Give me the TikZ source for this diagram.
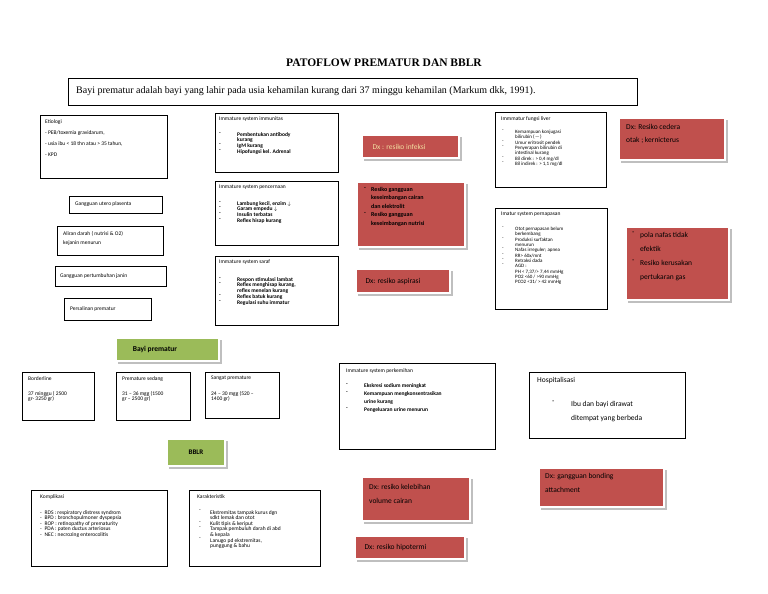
\documentclass[tikz,border=0pt]{standalone}
\usepackage{fontspec}
\setmainfont{Carlito}
\newfontfamily\serif{Liberation Serif}
\definecolor{dxred}{HTML}{C0504D}
\definecolor{dxgreen}{HTML}{9BBB59}
\definecolor{dxyel}{HTML}{F2DDA0}
\begin{document}
\begin{tikzpicture}[x=1pt,y=-1pt,
 wb/.style={draw=black,line width=0.8pt,fill=white},
 rb/.style={fill=dxred,draw=white,line width=1.5pt},
 gb/.style={fill=dxgreen,draw=white,line width=1.5pt},
 sh/.style={fill=black!25},
 tx/.style={anchor=north west,inner sep=0pt,align=left,font=\fontsize{5.5}{6}\selectfont},
 tb/.style={anchor=north west,inner sep=0pt,align=left,font=\fontsize{5.5}{5.8}\selectfont\bfseries},
 rt/.style={anchor=north west,inner sep=0pt,align=left,font=\fontsize{7.5}{12}\selectfont},
]
\useasboundingbox (0,0) rectangle (768,594);
\fill[white] (0,0) rectangle (768,594);
\node (title) at (384,63) {\serif\bfseries\fontsize{11.5}{12}\selectfont PATOFLOW PREMATUR DAN BBLR};
\draw[wb] (68,78) rectangle (637,105);
\node[anchor=west,inner sep=0pt] (intro) at (76,91) {\serif\fontsize{10}{11}\selectfont Bayi prematur adalah bayi yang lahir pada usia kehamilan kurang dari 37 minggu kehamilan (Markum dkk, 1991).};
% left column
\draw[wb] (40,115) rectangle (167,178);
\node[tx,font=\fontsize{5.5}{11}\selectfont] (etio) at (45,119) {Etiologi\\- PEB/toxemia gravidarum,\\- usia ibu < 18 thn atau > 35 tahun,\\- KPD};
\draw[wb] (69,196) rectangle (162,213);
\node[tx] (g1) at (75,201) {Gangguan utero plasenta};
\draw[wb] (57,226) rectangle (163,255);
\node[tx,font=\fontsize{5.5}{9}\selectfont] (g2) at (63,231) {Aliran darah ( nutrisi \& O2)\\kejanin menurun};
\draw[wb] (55,266) rectangle (166,286);
\node[tx] (g3) at (60,273) {Gangguan pertumbuhan janin};
\draw[wb] (64,298) rectangle (151,320);
\node[tx] (g4) at (70,306) {Persalinan prematur};
% immature systems
\draw[wb] (215,113) rectangle (338,172);
\node[tx] (im1) at (219,117) {Immature system immunitas};
\node[tb] at (219,132) {-\\\\-\\-};
\node[tb] (im1b) at (237,132) {Pembentukan antibody\\kurang\\IgM kurang\\Hipofungsi kel. Adrenal};
\draw[wb] (215,181) rectangle (338,245);
\node[tx] (im2) at (219,185) {Immature system pencernaan};
\node[tb] at (219,201) {-\\-\\-\\-};
\node[tb] (im2b) at (237,201) {Lambung kecil, enzim $\downarrow$\\Garam empedu $\downarrow$\\Insulin terbatas\\Reflex hisap kurang};
\draw[wb] (215,256) rectangle (338,325);
\node[tx] (im3) at (219,260) {Immature system saraf};
\node[tb] at (219,277) {-\\-\\\\-\\-};
\node[tb] (im3b) at (237,277) {Respon stimulasi lambat\\Reflex menghisap kurang,\\reflex menelan kurang\\Reflex batuk kurang\\Regulasi suhu immatur};
% red dx middle
\fill[sh] (364,137) rectangle (462,161);
\draw[rb] (362,135) rectangle (459,158);
\node[anchor=west,text=dxyel,font=\fontsize{7.5}{8}\selectfont] (dx1) at (369,146.5) {Dx : resiko infeksi};
\fill[sh] (359,184) rectangle (468,250);
\draw[rb] (357,182) rectangle (465,247);
\node[tb,font=\fontsize{6}{8.5}\selectfont\bfseries] at (364,187) {-\\\\\\-};
\node[tb,font=\fontsize{6}{8.5}\selectfont\bfseries] (dx2) at (371,187) {Resiko gangguan\\keseimbangan cairan\\dan elektrolit\\Resiko gangguan\\keseimbangan nutrisi};
\fill[sh] (358,271) rectangle (453,296);
\draw[rb] (356,269) rectangle (450,293);
\node[anchor=west,font=\fontsize{7.5}{8}\selectfont] (dx3) at (362,281) {Dx: resiko aspirasi};
% liver & respiration
\draw[wb] (495,112) rectangle (606,187);
\node[tx] (liv) at (501,116) {Immmatur fungsi liver};
\node[tx,font=\fontsize{5}{5.3}\selectfont] at (502,130) {-\\\\-\\-\\\\-\\-};
\node[tx,font=\fontsize{5}{5.3}\selectfont] (livb) at (515,130) {Kemampuan konjugasi\\bilirubin ($-$)\\Umur eritrosit pendek\\Penyerapan bilirubin di\\intestinal kurang\\Bil direk : > 0,4 mg/dl\\Bil indirek : > 1,1 mg/dl};
\draw[wb] (495,208) rectangle (607,309);
\node[tx] (res) at (501,212) {Imatur system pernapasan};
\node[tx,font=\fontsize{5}{5.3}\selectfont] at (502,227) {-\\\\-\\\\-\\-\\-\\-};
\node[tx,font=\fontsize{5}{5.3}\selectfont] (resb) at (515,227) {Otot pernapasan belum\\berkembang\\Produksi surfaktan\\menurun\\Nafas irreguler; apnea\\RR> 60x/mnt\\Retraksi dada\\AGD :\\PH < 7,37/> 7,44 mmHg\\PO2 <60 / >90 mmHg\\PCO2 <31/ > 42 mmHg};
% right red
\fill[sh] (621,120) rectangle (728,163);
\draw[rb] (619,118) rectangle (725,160);
\node[rt,font=\fontsize{7.5}{13}\selectfont] (dx4) at (626,124) {Dx: Resiko cedera\\otak ; kernicterus};
\fill[sh] (628,229) rectangle (732,303);
\draw[rb] (626,227) rectangle (729,300);
\node[rt,font=\fontsize{7.5}{14}\selectfont] at (632,232) {-\\\\-};
\node[rt,font=\fontsize{7.5}{14}\selectfont] (dx5) at (640,232) {pola nafas tidak\\efektik\\Resiko kerusakan\\pertukaran gas};
% green
\fill[sh] (118,340) rectangle (222,364);
\draw[gb] (116,338) rectangle (219,361);
\node[font=\fontsize{7.5}{8}\selectfont\bfseries] (bp) at (155,349.5) {Bayi prematur};
\draw[wb] (22,372) rectangle (94,420);
\node[tx] (b1) at (28,376) {Borderline};
\node[tx,font=\fontsize{5.5}{5}\selectfont] at (28,391) {37 minggu ( 2500\\gr- 3250 gr)};
\draw[wb] (116,372) rectangle (190,420);
\node[tx] (b2) at (122,376) {Premature sedang};
\node[tx,font=\fontsize{5.5}{5}\selectfont] at (122,391) {31 -- 36 mgg (1500\\gr -- 2500 gr)};
\draw[wb] (205,372) rectangle (279,418);
\node[tx] (b3) at (211,376) {Sangat premature};
\node[tx,font=\fontsize{5.5}{5}\selectfont] at (211,391) {24 -- 30 mgg (520 --\\1400 gr)};
\fill[sh] (169,441) rectangle (228,469);
\draw[gb] (167,439) rectangle (225,466);
\node[font=\fontsize{7}{8}\selectfont\bfseries] (bblr) at (196,452.5) {BBLR};
\draw[wb] (31,490) rectangle (167,566);
\node[tx] (kom) at (40,494) {Komplikasi};
\node[tx,font=\fontsize{5.5}{5.6}\selectfont] (komb) at (40,510) {-\enspace RDS : respiratory distress syndrom\\-\enspace BPD : bronchopulmoner dyspepsia\\-\enspace ROP : retinopathy of prematurity\\-\enspace PDA : paten ductus arteriosus\\-\enspace NEC : necrozing enterocolitis};
\draw[wb] (189,490) rectangle (320,566);
\node[tx] (kar) at (197,494) {Karakteristik};
\node[tx,font=\fontsize{5.5}{5.6}\selectfont] at (199,510) {-\\\\-\\-\\\\-};
\node[tx,font=\fontsize{5.5}{5.6}\selectfont] (karb) at (210,510) {Ekstremitas tampak kurus dgn\\sdkt lemak dan otot\\Kulit tipis \& keriput\\Tampak pembuluh darah di abd\\\& kepala\\Lanugo pd ekstremitas,\\punggung \& bahu};
% perkemihan, hospitalisasi
\draw[wb] (339,363) rectangle (495,449);
\node[tx] (pk) at (346,368) {Immature system perkemihan};
\node[tb,font=\fontsize{5.5}{8}\selectfont\bfseries] at (346,383) {-\\-\\\\-};
\node[tb,font=\fontsize{5.5}{8}\selectfont\bfseries] (pkb) at (364,383) {Ekskresi sodium meningkat\\Kemampuan mengkonsentrasikan\\urine kurang\\Pengeluaran urine menurun};
\draw[wb] (529,372) rectangle (685,438);
\node[rt] (hos) at (537,377) {Hospitalisasi};
\node[rt,font=\fontsize{7.5}{14}\selectfont] at (552,401) {-};
\node[rt,font=\fontsize{7.5}{14}\selectfont] (hosb) at (571,401) {Ibu dan bayi dirawat\\ditempat yang berbeda};
% bottom red
\fill[sh] (364,479) rectangle (473,524);
\draw[rb] (362,477) rectangle (470,521);
\node[rt,font=\fontsize{7.5}{14}\selectfont] (dx6) at (369,484) {Dx: resiko kelebihan\\volume cairan};
\fill[sh] (357,538) rectangle (468,562);
\draw[rb] (355,536) rectangle (465,559);
\node[anchor=west,font=\fontsize{7.5}{8}\selectfont] (dx7) at (361,547.5) {Dx: resiko hipotermi};
\fill[sh] (541,470) rectangle (667,510);
\draw[rb] (539,468) rectangle (664,507);
\node[rt,font=\fontsize{7.5}{14}\selectfont] (dx8) at (545,473) {Dx: gangguan bonding\\attachment};
\end{tikzpicture}
\end{document}
